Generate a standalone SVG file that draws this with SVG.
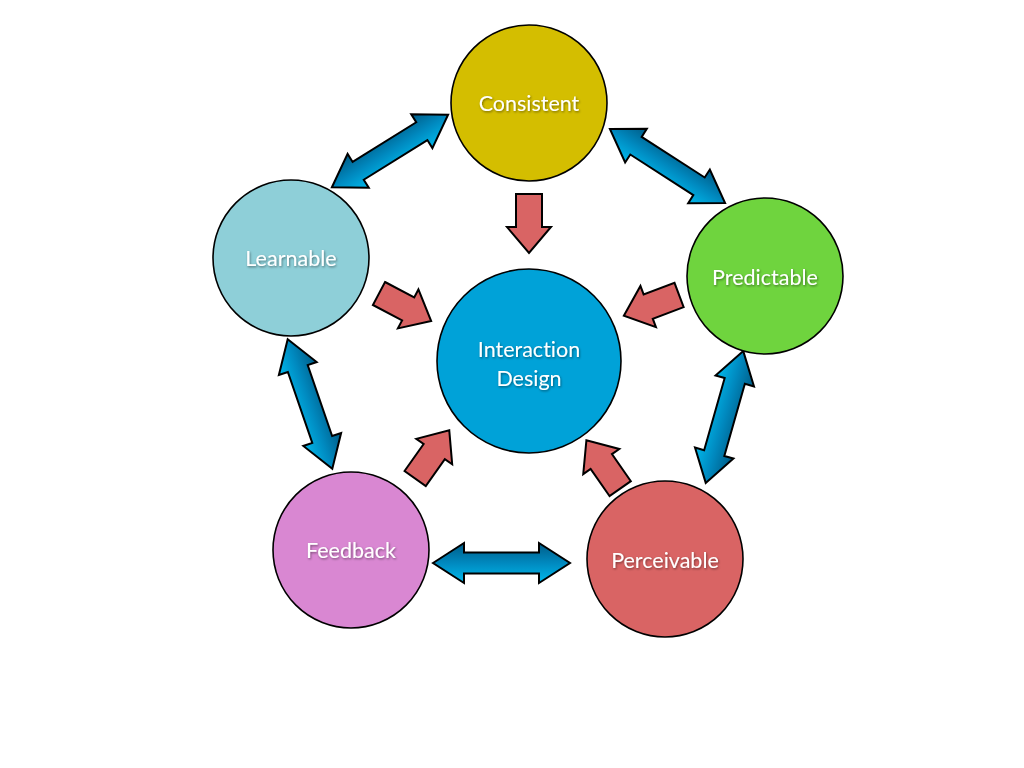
<svg xmlns="http://www.w3.org/2000/svg" width="1024" height="768" viewBox="0 0 1024 768">
  <defs>
    <linearGradient id="blueGrad" x1="0" y1="0" x2="0" y2="1">
      <stop offset="0" stop-color="#005b86"/>
      <stop offset="0.5" stop-color="#0089bf"/>
      <stop offset="1" stop-color="#00b9ec"/>
    </linearGradient>
    <filter id="txtShadow" x="-20%" y="-40%" width="140%" height="180%">
      <feDropShadow dx="0.8" dy="1.2" stdDeviation="0.9" flood-color="#000" flood-opacity="0.45"/>
    </filter>
    <polygon id="blueArrow" points="-68.5,0 -37.5,-20 -37.5,-10.5 37.5,-10.5 37.5,-20 68.5,0 37.5,20 37.5,10.5 -37.5,10.5 -37.5,20"/>
    <polygon id="redArrow" points="-30,-13 3,-13 3,-22 29,0 3,22 3,13 -30,13"/>
  </defs>
  <style>
    .node circle { stroke: #000; stroke-width: 1.6; }
    .lbl { font-family: "Lato", "Open Sans", "Liberation Sans", sans-serif; font-size: 21.5px; fill: #fff; text-anchor: middle; dominant-baseline: central; filter: url(#txtShadow); font-variant-ligatures: none; font-feature-settings: "liga" 0, "dlig" 0; }
    .blue { fill: url(#blueGrad); stroke: #000; stroke-width: 2; stroke-linejoin: miter; }
    .red { fill: #d96464; stroke: #000; stroke-width: 2; stroke-linejoin: miter; }
  </style>
  <rect width="1024" height="768" fill="#fff"/>

  <g id="connectors">
    <use href="#blueArrow" class="blue" transform="translate(390,151) rotate(-32)"/>
    <use href="#blueArrow" class="blue" transform="translate(667.5,166) rotate(32.8)"/>
    <use href="#blueArrow" class="blue" transform="translate(310,404) rotate(71)"/>
    <use href="#blueArrow" class="blue" transform="translate(724.5,417) rotate(105.9)"/>
    <use href="#blueArrow" class="blue" transform="translate(501.5,563)"/>

    <use href="#redArrow" class="red" transform="translate(529,224) rotate(90)"/>
    <use href="#redArrow" class="red" transform="translate(405.5,307.5) rotate(27.8)"/>
    <use href="#redArrow" class="red" transform="translate(651,305.5) rotate(159.4)"/>
    <use href="#redArrow" class="red" transform="translate(432.5,454) rotate(-54.7)"/>
    <use href="#redArrow" class="red" transform="translate(603,464) rotate(-124.9)"/>
  </g>

  <g id="node-interaction-design" class="node">
    <circle cx="529" cy="361" r="92" fill="#00a2d8"/>
    <text class="lbl" x="529" y="349">Interaction</text>
    <text class="lbl" x="529" y="378">Design</text>
  </g>
  <g id="node-consistent" class="node">
    <circle cx="529" cy="103" r="78" fill="#d4be00"/>
    <text class="lbl" x="529" y="103">Consistent</text>
  </g>
  <g id="node-learnable" class="node">
    <circle cx="291" cy="258" r="78" fill="#8ecfd8"/>
    <text class="lbl" x="291" y="258">Learnable</text>
  </g>
  <g id="node-predictable" class="node">
    <circle cx="765" cy="276" r="78" fill="#6fd43e"/>
    <text class="lbl" x="765" y="277">Predictable</text>
  </g>
  <g id="node-feedback" class="node">
    <circle cx="351" cy="550" r="78" fill="#d987d2"/>
    <text class="lbl" x="351" y="550">Feedback</text>
  </g>
  <g id="node-perceivable" class="node">
    <circle cx="665" cy="559" r="78" fill="#d96464"/>
    <text class="lbl" x="665" y="560">Perceivable</text>
  </g>
</svg>
